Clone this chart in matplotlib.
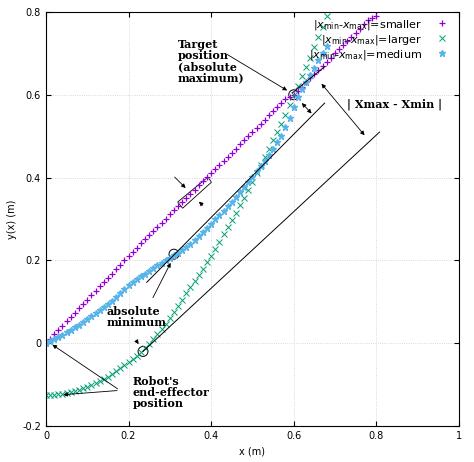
import matplotlib
matplotlib.use("Agg")
import matplotlib.pyplot as plt
from matplotlib.patches import Circle, Polygon

x_small = [i*0.01 for i in range(81)]
y_small = [0,.011,.021,.032,.042,.053,.063,.074,.084,.095,.105,.116,.126,.137,.147,.158,.168,.179,.189,.2,
           .21,.22,.231,.241,.251,.261,.271,.281,.291,.301,.311,.321,.331,.341,.351,.361,.371,.381,.391,.401,
           .41,.42,.43,.44,.45,.46,.47,.48,.49,.5,.51,.52,.53,.54,.55,.56,.57,.58,.59,.595,
           .6,.61,.62,.63,.64,.65,.66,.67,.68,.69,.70,.71,.72,.73,.74,.75,.76,.77,.78,.785,.79]
x_med = [i*0.01 for i in range(69)]
y_med = [0,.005,.01,.015,.02,.026,.033,.039,.045,.051,.058,.065,.072,.079,.087,.095,.103,.111,.12,.13,
         .14,.148,.155,.162,.168,.175,.181,.188,.194,.2,.206,.212,.218,.225,.232,.24,.249,.258,.268,.278,
         .289,.3,.31,.32,.331,.342,.353,.365,.377,.39,.402,.415,.427,.44,.455,.47,.485,.5,.522,.545,
         .57,.595,.613,.63,.648,.665,.683,.7,.718]
x_large = [i*0.01 for i in range(69)]
y_large = [-.125,-.125,-.124,-.123,-.122,-.12,-.118,-.115,-.112,-.109,-.105,-.101,-.097,-.092,-.087,-.081,
           -.075,-.068,-.06,-.053,-.045,-.038,-.03,-.021,-.012,-.001,.01,.022,.035,.047,.06,.075,.09,.105,
           .12,.135,.15,.165,.18,.195,.21,.228,.245,.263,.28,.298,.315,.333,.35,.37,.39,.41,.43,.45,.47,
           .49,.51,.53,.55,.575,.6,.622,.645,.668,.69,.715,.74,.765,.79]

fig = plt.figure(figsize=(4.74, 4.62), dpi=100)
ax = fig.add_axes([0.097, 0.078, 0.871, 0.896])
ax.plot(x_small, y_small, '+', color='#9400d3', ms=4, mew=0.9, ls='none',
        label=r'|$x_{\rm min}$-$x_{\rm max}$|=smaller')
ax.plot(x_large, y_large, 'x', color='#009e73', ms=4, mew=0.7, ls='none',
        label=r'|$x_{\rm min}$-$x_{\rm max}$|=larger')
ax.plot(x_med, y_med, '*', color='#56b4e9', ms=5, ls='none',
        label=r'|$x_{\rm min}$-$x_{\rm max}$|=medium')
ax.set_xlim(0, 1); ax.set_ylim(-0.2, 0.8)
ax.set_xticks([0, .2, .4, .6, .8, 1]); ax.set_xticklabels(['0', '0.2', '0.4', '0.6', '0.8', '1'])
ax.set_yticks([-.2, 0, .2, .4, .6, .8]); ax.set_yticklabels(['-0.2', '0', '0.2', '0.4', '0.6', '0.8'])
ax.tick_params(direction='in', labelsize=7, top=True, right=True)
ax.grid(True, ls=':', color='#cccccc', lw=0.6)
ax.set_xlabel('x (m)', fontsize=7); ax.set_ylabel('y(x) (m)', fontsize=7)
ax.legend(loc='upper right', markerfirst=False, frameon=False, fontsize=8, handletextpad=0.8,
          borderaxespad=0.1, labelspacing=0.1)

k = dict(color='k', lw=0.7)
ax.plot([0.244, 0.675], [0.147, 0.58], **k)
ax.plot([0.597, 0.675], [0.605, 0.668], **k)
ax.plot([0.235, 0.808], [-0.02, 0.51], **k)
for c in [(0.31, 0.215), (0.235, -0.02), (0.6, 0.6)]:
    ax.add_patch(Circle(c, 0.012, fill=False, ec='k', lw=0.7))
ax.add_patch(Polygon([(0.319, 0.341), (0.392, 0.401), (0.401, 0.389), (0.331, 0.326)],
                     closed=True, fill=False, ec='k', lw=0.6))
ap = dict(arrowstyle='-|>', color='k', lw=0.6, mutation_scale=6)
ad = dict(arrowstyle='<|-|>', color='k', lw=0.6, mutation_scale=6)
ax.annotate('', xy=(0.343, 0.370), xytext=(0.307, 0.406), arrowprops=ap)
ax.annotate('', xy=(0.365, 0.346), xytext=(0.385, 0.329), arrowprops=ap)
ax.annotate('', xy=(0.615, 0.585), xytext=(0.648, 0.55), arrowprops=ad)
ax.annotate('', xy=(0.663, 0.632), xytext=(0.776, 0.497), arrowprops=ad)
sf = dict(family='DejaVu Serif', fontsize=8, va='top', fontweight='bold')
ax.text(0.319, 0.735, 'Target\nposition\n(absolute\nmaximum)', linespacing=1.0, **sf)
ax.annotate('', xy=(0.59, 0.607), xytext=(0.433, 0.701), arrowprops=ap)
ax.text(0.728, 0.59, '| Xmax - Xmin |', **sf)
ax.text(0.147, 0.09, 'absolute\nminimum', linespacing=1.0, **sf)
ax.annotate('', xy=(0.305, 0.2), xytext=(0.256, 0.104), arrowprops=ap)
ax.annotate('', xy=(0.228, -0.008), xytext=(0.215, 0.012), arrowprops=ap)
ax.text(0.21, -0.08, "Robot's\nend-effector\nposition", linespacing=1.0, **sf)
ax.annotate('', xy=(0.01, 0.0), xytext=(0.179, -0.114), arrowprops=ap)
ax.annotate('', xy=(0.035, -0.125), xytext=(0.179, -0.114), arrowprops=ap)
fig.savefig('out.png', dpi=100)
